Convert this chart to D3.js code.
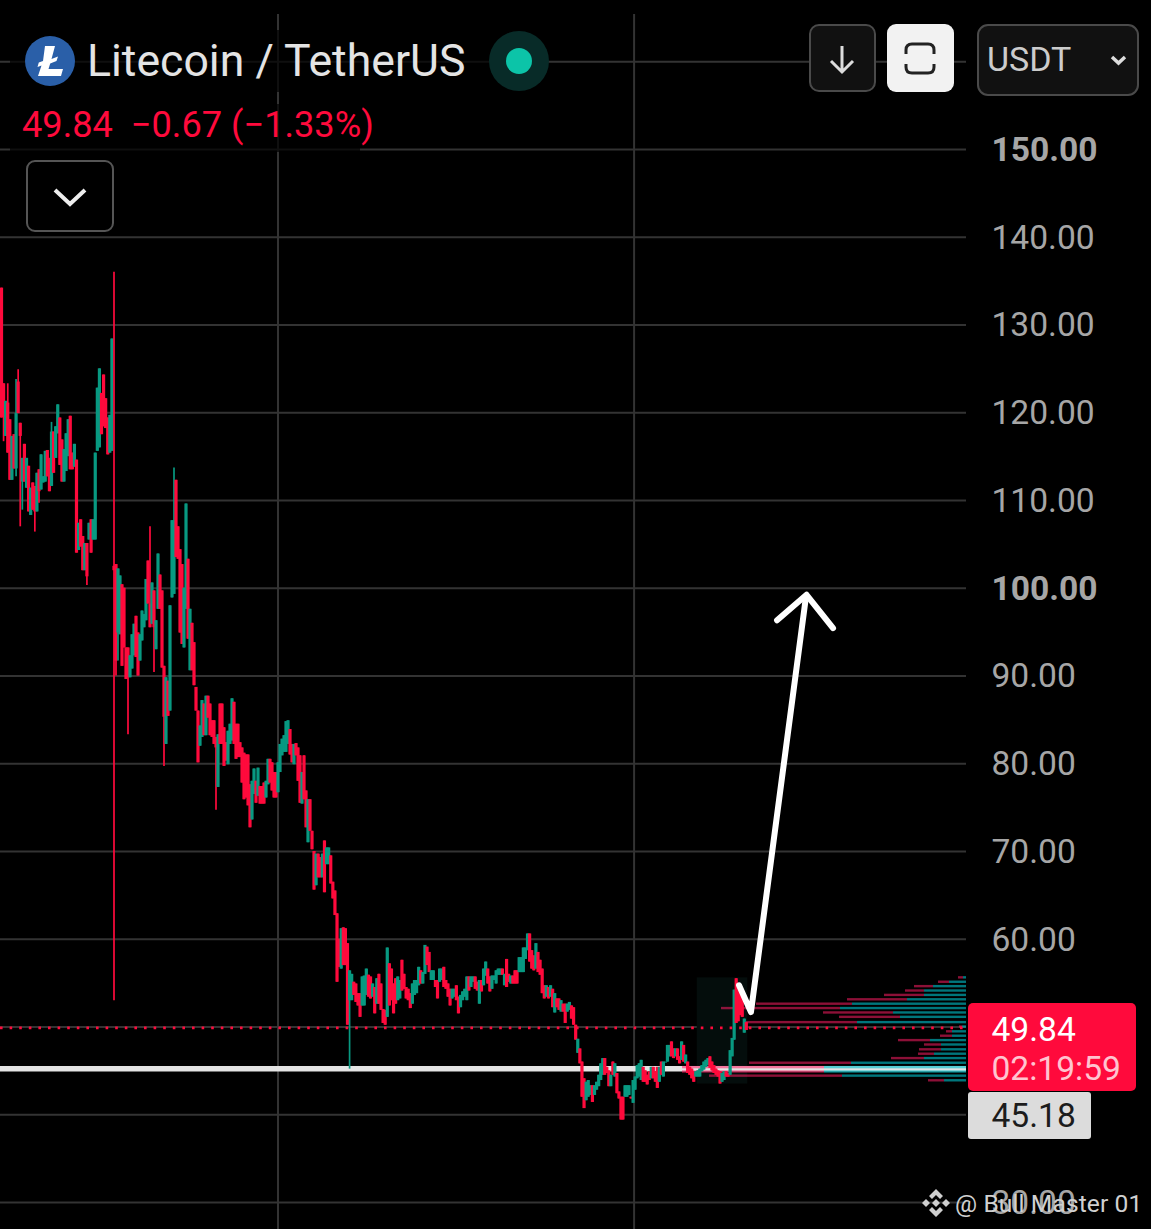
<!DOCTYPE html>
<html>
<head>
<meta charset="utf-8">
<title>Litecoin / TetherUS</title>
<script src="https://cdn.jsdelivr.net/npm/d3@7"></script>
<style>
    html, body { margin: 0; padding: 0; background: #000; overflow: hidden; }
    text { font-family: Roboto, sans-serif; }
</style>
</head>
<body>
<div id="chart"></div>
<script>
// candle bodies, ten per row
var candleOpen = [
    134.2,123.3,117.3,121.1,119.2,112.3,117.5,113.6,123.5,118.8,
    112.1,116.4,111.4,113.9,108.3,112,111.6,108.7,113.5,111.2,
    112,112.1,115.7,114.8,111.6,117.8,114.8,117.6,119.4,116.9,
    112.1,113.3,115,119.6,115.4,113.8,114.6,104.3,107.8,105.9,
    102,105.1,105.5,107.8,105.5,105.5,115.6,116,122.2,124.3,
    121.6,119.4,115.4,115.6,102.5,102.7,94.9,94.7,100.4,100,
    93.2,93.2,89.8,90.8,92.3,96.8,94.9,91.7,94,95.5,
    96.3,103.1,98.2,95.9,99.7,93,97.6,101.5,99.7,91.1,
    82.2,89.4,86,98.9,99.3,112.3,107,104.4,102.7,93.2,
    97.6,103.3,90.6,96,93.8,88.7,86,82,83,86.8,
    83.2,87.7,86.8,84.9,84.9,83,77.3,86.8,86.8,84.1,
    82.4,79.9,82.2,82.6,87,84.5,84.5,82.4,81.8,81.2,
    81,81,77.6,73.6,76.5,78,76.3,77.4,77.4,77.8,
    76.1,77.6,80.5,80.1,79,79,76.7,79,80.9,81.3,
    81.3,82.2,83.9,82.2,79.9,82.3,81.8,80.9,75.4,80.9,
    76.9,71,75.9,72.3,70,66.1,69.7,69.3,67,71.2,
    68.5,68.5,69.5,66.5,65.5,62.9,60,56.6,61.3,61.2,
    59.5,53,53,55.1,54.9,53.8,53.8,52.4,52.4,53.6,
    55.9,55.7,53.4,54.5,52.6,56,54.9,52,51.9,51.1,
    57.2,56.6,54.9,55.5,53,53.2,57.6,56,54.5,54.3,
    53.8,52.6,53.6,53.8,54.7,56.4,54.9,56,59.1,58.5,
    55.3,55.3,55.3,55.3,55.1,55.3,56.8,55.3,54.9,54.3,
    53.2,53.4,54.7,53.4,52.2,53,53.4,53,55.7,54.5,
    55.1,55.7,55.1,52.6,55.3,54.7,55.8,56.6,55.7,54.3,
    55.3,54.9,55.9,55.9,56.6,54.7,57.7,56,54.9,55.8,
    56.4,56.4,56.2,56.2,56.2,57.7,58.7,60.6,58.7,58.1,
    56.6,58.5,57.6,56.6,54.7,53.4,54.5,53.4,54.3,51.6,
    53.2,53.2,51.7,52.6,52.6,51.7,51.9,52.4,52.2,50.2,
    47,47.5,46,44.1,41.6,42,42.2,43.3,42.2,42.8,
    43.2,43.9,44.5,46.4,45.4,45,43.2,46,44.3,44.7,
    42.6,42,42,42,42,42.2,42,41.3,42.8,44.1,
    44.3,43.9,45.4,45,44.5,44.9,44.1,45.4,44.9,45.4,
    43.7,46,44.3,46,46,46.6,48.3,47.5,46.6,47.5,
    46.6,46.2,47.9,45.8,46,45.4,45.2,44.9,44.3,44.3,
    44.3,44.9,45.1,45.4,45.6,46.6,46,45.6,45.2,45,
    44.9,43.7,43.9,44.9,44.7,44.5,46.6,48.5,55.5,54.2,
    54.4,53.6,49.3,50.5
];
var candleClose = [
    119.4,119.5,121.3,115.4,112.3,117.3,113.6,119.9,119.9,117.3,
    114.8,112.1,114.8,108.7,111.4,108.9,108.7,113.1,111,115.2,
    112.7,115.6,112.7,111,117.8,113.1,118.4,120.9,114,112.1,
    115.8,117.6,119.2,113.5,113.5,116.4,104,107.4,104.7,102,
    105.1,101.3,107.4,104,107.8,115.4,122.8,125,117.5,118.4,
    118.2,115.2,119.7,128.4,102,91.7,102.2,101.4,91.1,93.2,
    89.6,89.8,92.3,94.7,95.9,92.1,90,94.7,97.4,97,
    101,98.2,95.5,100.6,95.5,96.3,103.9,97.6,90.9,85.3,
    89.8,85.4,98,107.7,107.7,103.5,103.3,94.9,93.6,100,
    109.6,94.2,97.6,90.6,88.9,86,80.1,84.3,87.2,83.2,
    87.7,85.2,83.2,83,82.2,81.8,83.3,82.2,82.2,79.7,
    80.3,83.7,84.5,87.4,82.2,80.5,80.7,80.7,77.8,75.9,
    76.1,75.2,72.7,78,79.4,75.5,79.5,75.4,75.4,75.4,
    78,80.5,77.8,76.9,76.1,76.1,80.1,82.2,82.8,83.2,
    84.8,84.9,81,80.1,82.2,80.9,78,75.5,79,75.9,
    72.7,75.9,72.3,70.2,65.6,69.7,67,67,69.7,65.3,
    70.4,70.4,66.3,64.6,62.7,55.1,56.8,61.2,57,57,
    50.2,56.4,56,53.6,52.8,52.4,51.1,55.7,55.8,56.6,
    53.4,53.2,54.9,51.5,55.5,52.6,51.9,50.4,50.2,59,
    52.4,53,51.5,52.6,55.7,55.3,54.1,54.3,53.2,53,
    52.1,54.9,55.3,55.3,56.8,54.9,56.2,59.3,57,56.2,
    56.4,56.4,54.5,53.2,56.6,56.6,54.5,54.3,53.4,52.4,
    54.3,54.3,53,51.5,53.6,54,54.3,55.7,54.1,55.7,
    55.7,54.3,54.1,55.3,54,56.6,57.4,54.9,54,55.8,
    55.8,56.4,56.6,56.6,55.9,56,54.5,55.1,55.8,54.9,
    54.9,54.9,57.9,57.9,59,59,60.6,57.4,56.6,56.4,
    59.5,56.2,55.9,53.8,53.2,54.7,53.2,54.7,52.2,53.8,
    52.2,51.9,53,51.7,50.4,52.6,52.8,50.9,50.2,48.5,
    48.6,45.8,42,40.7,43.7,43.9,43.3,41.4,43.3,43.7,
    44.5,45.8,46.4,44.5,44.7,43.2,44.5,44.5,45.8,42.4,
    41.8,39.4,39.4,43.3,43.3,43.3,41.8,43.9,44.3,45.6,
    45.8,46.2,43.7,43.7,43.4,43.9,45.4,44.1,43.7,43,
    45.4,44.5,46,46,47.9,47.9,46.6,46.4,47.5,46.2,
    45.8,48.3,46,46.8,44.7,44.5,44.1,43.7,44.9,45,
    45.2,45.6,46,46.2,46.4,45.3,45,44.7,44.5,44.3,
    43.5,44.7,44.9,44.3,44.3,47.3,48.7,54.2,50.4,50.6,
    51.3,51.1,50.9,49.6
];
// only the wicks that stick out of the body: [candle, high, low]
var candleWicks = [
    [1,null,116.7],[3,123.3,null],[7,123.8,112.7],[8,124.9,null],[9,null,107],
    [10,null,108.9],[16,null,106.4],[18,null,109.7],[24,118.9,null],[41,null,100.3],
    [54,136,53],[55,null,90],[56,null,91.7],[61,null,83.3],[72,107,null],[74,null,90.4],
    [79,null,79.7],[84,113.7,null],[105,null,74.7],[171,null,45.2]
];

// volume profile rows on the right edge
var profilePrice = [55.6,55.1,54.6,54.1,53.6,53.1,52.6,52.1,51.6,51.1,50.5,50,49.45,48.95,48.45,47.95,47.4,46.9,46.4,45.87,45.37,44.87,44.4,43.87];
var profileUp = [3,17,33,42,42,59,114,126,73,66,109,4,14,14,36,25,25,32,42,115,142,142,124,22];
var profileDown = [5,11,19,19,40,60,96,119,70,61,111,3,6,12,32,17,22,16,33,102,142,142,133,16];

var priceTicks = [160,150,140,130,120,110,100,90,80,70,60,50,40,30];
var boldTicks = [150,100];
// these sit behind the header or the price tags, so no label is drawn
var unlabelledTicks = [160,50,40];
var verticalGridCandle = [136,307.5];
var lastPrice = 49.84, lowLevel = 45.18;
// [candle, price] pairs of the hand drawn arrow
var arrowLine = [[359.4,54.7],[365.3,51.65],[392.5,98.95]];
var arrowHead = [[378.2,96.3],[392.8,99.2],[405.9,95.4]];

var width = 1151, height = 1229, plotRight = 966;
var redColor = '#ff0a3c', tealColor = '#089981';

var svg = d3.select('#chart').append('svg')
    .attr('width', width)
    .attr('height', height)
    .style('display', 'block');

svg.append('rect').attr('width', width).attr('height', height).attr('fill', '#000');

var y = d3.scaleLinear().domain([150, 30]).range([149, 1202]);
// candles are not quite evenly spaced in the screenshot
var x = d3.scaleLinear().domain([0, 54, 154, 290, 363]).range([1.5, 114, 314, 598.7, 746.3]);
var profileX = d3.scaleLinear().domain([0, 283]).range([plotRight, plotRight - 283]);

// Grid and price labels
var axis = d3.axisRight(y)
    .tickValues(priceTicks)
    .tickSize(-plotRight)
    .tickPadding(25.5)
    .tickFormat(function (d) { return unlabelledTicks.indexOf(d) >= 0 ? '' : d3.format('.2f')(d); });

var axisG = svg.append('g')
    .attr('transform', 'translate(' + plotRight + ',0)')
    .call(axis);
axisG.select('.domain').remove();
axisG.selectAll('.tick line').attr('stroke', '#333').attr('stroke-width', 2);
axisG.selectAll('.tick text')
    .attr('fill', '#a6a6a6')
    .attr('font-size', 33.6)
    .attr('font-family', 'Roboto, sans-serif')
    .attr('transform', 'translate(0,0.7)')
    .attr('font-weight', function (d) { return boldTicks.indexOf(d) >= 0 ? 700 : 400; });

svg.selectAll('.vgrid')
    .data(verticalGridCandle)
    .enter().append('line')
    .attr('class', 'vgrid')
    .attr('x1', x).attr('x2', x)
    .attr('y1', 14).attr('y2', height)
    .attr('stroke', '#333')
    .attr('stroke-width', 2);

// Dark highlight behind the latest candles
svg.append('rect')
    .attr('x', x(338.5)).attr('width', x(363) - x(338.5) + 1)
    .attr('y', y(55.6)).attr('height', y(43.5) - y(55.6))
    .attr('fill', '#040d0c');

// Low level line
svg.append('line')
    .attr('x1', 0).attr('x2', plotRight)
    .attr('y1', y(lowLevel)).attr('y2', y(lowLevel))
    .attr('stroke', '#e4e4e4')
    .attr('stroke-width', 5.5);

// Volume profile
var rows = svg.append('g').selectAll('g')
    .data(profilePrice)
    .enter().append('g');
rows.append('rect')
    .attr('x', function (d, i) { return profileX(profileUp[i]); })
    .attr('y', function (d) { return y(d) - 1.2; })
    .attr('width', function (d, i) { return plotRight - profileX(profileUp[i]); })
    .attr('height', 2.4)
    .attr('fill', 'rgba(0,190,200,0.62)');
rows.append('rect')
    .attr('x', function (d, i) { return profileX(profileUp[i] + profileDown[i]); })
    .attr('y', function (d) { return y(d) - 1.2; })
    .attr('width', function (d, i) { return profileX(profileUp[i]) - profileX(profileUp[i] + profileDown[i]); })
    .attr('height', 2.4)
    .attr('fill', 'rgba(255,30,100,0.55)');

// Last price dotted line
svg.append('line')
    .attr('x1', 0).attr('x2', plotRight)
    .attr('y1', y(lastPrice)).attr('y2', y(lastPrice))
    .attr('stroke', redColor)
    .attr('stroke-width', 2.6)
    .attr('stroke-dasharray', '2.6 7');

// Candles
var candles = candleOpen.map(function (o, i) {
    return { i: i, open: o, close: candleClose[i], high: Math.max(o, candleClose[i]), low: Math.min(o, candleClose[i]) };
});
candleWicks.forEach(function (w) {
    if (w[1] !== null) candles[w[0]].high = w[1];
    if (w[2] !== null) candles[w[0]].low = w[2];
});
function candleColor(d) { return d.close >= d.open ? tealColor : redColor; }

var candleG = svg.append('g').selectAll('g')
    .data(candles)
    .enter().append('g');
candleG.append('line')
    .attr('x1', function (d) { return x(d.i); })
    .attr('x2', function (d) { return x(d.i); })
    .attr('y1', function (d) { return y(d.high); })
    .attr('y2', function (d) { return y(d.low); })
    .attr('stroke', candleColor)
    .attr('stroke-width', 1.7);
candleG.append('rect')
    .attr('x', function (d) { return x(d.i) - 1.6; })
    .attr('width', 3.2)
    .attr('y', function (d) { return y(Math.max(d.open, d.close)); })
    .attr('height', function (d) { return Math.max(1, Math.abs(y(d.open) - y(d.close))); })
    .attr('fill', candleColor);

// Arrow on top of the candles
var arrowPath = d3.line()
    .x(function (d) { return x(d[0]); })
    .y(function (d) { return y(d[1]); });
[arrowLine, arrowHead].forEach(function (pts) {
    svg.append('path')
        .attr('d', arrowPath(pts))
        .attr('fill', 'none')
        .attr('stroke', '#fff')
        .attr('stroke-width', 6)
        .attr('stroke-linecap', 'round')
        .attr('stroke-linejoin', 'round');
});

// Price tags
svg.append('rect').attr('x', 968).attr('y', 1003).attr('width', 168).attr('height', 88).attr('rx', 5).attr('fill', redColor);
svg.append('text').attr('x', 991.5).attr('y', 1041).attr('font-size', 33.6).attr('fill', '#fff').text(d3.format('.2f')(lastPrice));
svg.append('text').attr('x', 991.5).attr('y', 1080).attr('font-size', 33.6).attr('fill', '#ffc4d0').text('02:19:59');
svg.append('rect').attr('x', 968).attr('y', 1092).attr('width', 123).attr('height', 47).attr('rx', 3).attr('fill', '#dcdcdc');
svg.append('text').attr('x', 991.5).attr('y', 1127).attr('font-size', 33.6).attr('fill', '#1c1c1c').text(d3.format('.2f')(lowLevel));

// Header: dim the grid behind the legend
svg.append('rect').attr('x', 10).attr('y', 30).attr('width', 505).attr('height', 62).attr('fill', 'rgba(0,0,0,0.7)');
svg.append('rect').attr('x', 10).attr('y', 104).attr('width', 350).attr('height', 48).attr('fill', 'rgba(0,0,0,0.7)');

svg.append('circle').attr('cx', 50).attr('cy', 61).attr('r', 25).attr('fill', '#2a5fa8');
svg.append('path')
    .attr('d', 'M45 46 L55 46 L51.5 59 L58 56.5 L56.5 61 L50.2 63.5 L48.5 69 L63 69 L61 76 L38 76 L41.5 65.5 L37.5 67 L38.8 62.5 L43 61 Z')
    .attr('fill', '#fff');
svg.append('text').attr('x', 87).attr('y', 76).attr('font-size', 44.6).attr('fill', '#e4e4e4').text('Litecoin / TetherUS');
svg.append('circle').attr('cx', 519).attr('cy', 61).attr('r', 30).attr('fill', '#082b28');
svg.append('circle').attr('cx', 519).attr('cy', 61).attr('r', 13).attr('fill', '#0cc4a8');

svg.append('text').attr('x', 22).attr('y', 137).attr('font-size', 36.2).attr('fill', redColor)
    .attr('xml:space', 'preserve').style('white-space', 'pre')
    .text('49.84  \u22120.67 (\u22121.33%)');

// Collapse button
svg.append('rect').attr('x', 27).attr('y', 161).attr('width', 86).attr('height', 70).attr('rx', 8)
    .attr('fill', '#000').attr('stroke', '#555').attr('stroke-width', 2);
svg.append('path').attr('d', 'M55 190 L70 204 L85 190').attr('fill', 'none').attr('stroke', '#eee').attr('stroke-width', 4);

// Toolbar buttons
svg.append('rect').attr('x', 810).attr('y', 25).attr('width', 65).attr('height', 66).attr('rx', 9)
    .attr('fill', '#111').attr('stroke', '#4a4a4a').attr('stroke-width', 2);
svg.append('path').attr('d', 'M842 46 L842 72 M831 61 L842 72 L853 61').attr('fill', 'none').attr('stroke', '#ddd').attr('stroke-width', 3);
svg.append('rect').attr('x', 887).attr('y', 24).attr('width', 67).attr('height', 68).attr('rx', 9).attr('fill', '#f2f2f2');
svg.append('path')
    .attr('d', 'M906 54 L906 50 Q906 44 912 44 L928 44 Q934 44 934 50 L934 54 M906 64 L906 67 Q906 73 912 73 L928 73 Q934 73 934 67 L934 64')
    .attr('fill', 'none').attr('stroke', '#222').attr('stroke-width', 3);
svg.append('rect').attr('x', 978).attr('y', 25).attr('width', 160).attr('height', 70).attr('rx', 10)
    .attr('fill', '#111').attr('stroke', '#4a4a4a').attr('stroke-width', 2);
svg.append('text').attr('x', 987).attr('y', 71).attr('font-size', 34).attr('fill', '#ccc').text('USDT');
svg.append('path').attr('d', 'M1112 57 L1118.500 63 L1125 57').attr('fill', 'none').attr('stroke', '#ddd').attr('stroke-width', 3.5);

// Watermark
svg.append('path')
    .attr('d', 'M936 1189 L943 1196 L940 1199 L936 1195 L932 1199 L929 1196 Z M926 1199 L930 1203 L926 1207 L922 1203 Z M946 1199 L950 1203 L946 1207 L942 1203 Z M936 1199 L940 1203 L936 1207 L932 1203 Z M932 1207 L936 1211 L940 1207 L943 1210 L936 1217 L929 1210 Z')
    .attr('fill', '#cfcfcf');
svg.append('text').attr('x', 955).attr('y', 1212).attr('font-size', 24.6).attr('fill', '#d0d0d0').attr('letter-spacing', 0.1).text('@ Bull Master 01');
</script>
</body>
</html>
